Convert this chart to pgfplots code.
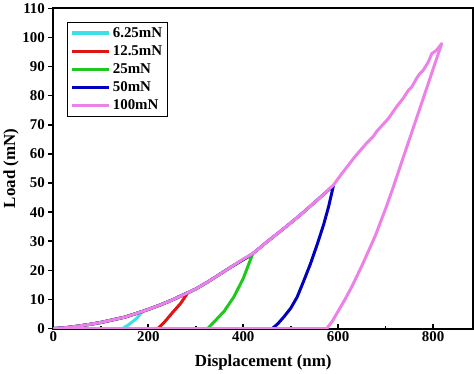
\documentclass[border=0pt]{standalone}
\usepackage{pgfplots}
\pgfplotsset{compat=1.18}
\usepackage{fontspec}
\setmainfont{Liberation Serif}
\definecolor{ccyan}{RGB}{60,225,232}
\definecolor{cred}{RGB}{225,20,20}
\definecolor{cgreen}{RGB}{30,200,30}
\definecolor{cblue}{RGB}{0,0,190}
\definecolor{cpink}{RGB}{236,130,232}
\begin{document}
\begin{tikzpicture}
\begin{axis}[
  scale only axis,
  width=422pt, height=322pt,
  xmin=0, xmax=884, ymin=0, ymax=110,
  xtick={0,200,400,600,800},
  minor xtick={100,300,500,700},
  ytick={0,10,20,30,40,50,60,70,80,90,100,110},
  xtick pos=bottom, ytick pos=left,
  xtick align=inside, ytick align=outside,
  major tick length=5pt, minor tick length=3pt,
  every tick/.style={black, line width=1.6pt},
  axis line style={line width=2pt},
  /pgf/number format/assume math mode=true,
  tick label style={font=\bfseries\fontsize{15}{18}\selectfont},
  label style={font=\bfseries\fontsize{17}{20}\selectfont},
  xlabel={Displacement (nm)},
  ylabel={Load (mN)},
  xlabel style={yshift=-6pt},
  ylabel style={yshift=-3pt},
  legend style={at={(0.033,0.957)}, anchor=north west, draw=black, line width=0.8pt,
    font=\bfseries\fontsize{15}{18}\selectfont, row sep=2.8pt, inner sep=3pt},
  legend cell align=left,
  legend image code/.code={\draw[#1, line width=3.5pt] (0pt,0pt) -- (37pt,0pt);},
  every axis plot/.append style={line width=3pt, line join=round},
  clip mode=individual,
]
\addplot[ccyan] coordinates {(0,0) (25,0.3) (50,0.8) (75,1.4) (100,2.1) (125,3.0) (150,3.9) (175,5.2) (188,5.9) (175,3.4) (160,1.5) (146,0)};
\addlegendentry{6.25mN}
\addplot[cred] coordinates {(0,0) (25,0.3) (50,0.8) (75,1.4) (100,2.1) (125,3.0) (150,3.9) (175,5.2) (200,6.6) (225,8.1) (250,9.8) (283,12.3) (268,8.6) (251,5.5) (235,2.4) (220,0)};
\addlegendentry{12.5mN}
\addplot[cgreen] coordinates {(0,0) (25,0.3) (50,0.8) (75,1.4) (100,2.1) (125,3.0) (150,3.9) (175,5.2) (200,6.6) (225,8.1) (250,9.8) (283,12.3) (300,13.6) (325,16.0) (350,18.6) (375,21.2) (400,23.7) (419,25.3) (400,17.2) (380,10.8) (360,6.0) (340,2.5) (325,0)};
\addlegendentry{25mN}
\addplot[cblue] coordinates {(0,0) (25,0.3) (50,0.8) (75,1.4) (100,2.1) (125,3.0) (150,3.9) (175,5.2) (200,6.6) (225,8.1) (250,9.8) (283,12.3) (300,13.6) (325,16.0) (350,18.6) (375,21.2) (400,23.7) (419,25.6) (450,29.8) (475,33.0) (500,36.3) (525,39.7) (550,43.3) (570,46.2) (590,49.1) (580,42.0) (569.5,35.8) (556,29.0) (541.5,22.2) (527,16.2) (513.5,10.8) (500,7.0) (485.6,4.0) (472,1.5) (461,0)};
\addlegendentry{50mN}
\addplot[cpink] coordinates {(0,0) (25,0.3) (50,0.8) (75,1.4) (100,2.1) (125,3.0) (150,3.9) (175,5.2) (200,6.6) (225,8.1) (250,9.8) (283,12.3) (300,13.6) (325,16.0) (350,18.6) (375,21.2) (400,23.9) (419,25.6) (450,29.8) (475,33.0) (500,36.3) (525,39.7) (550,43.3) (570,46.2) (590,49.3) (608,53.3) (636,59.2) (660,63.7) (674,66.0) (681,67.7) (706,72.2) (723,76.2) (737,79.1) (748,81.9) (755,83.0) (765,85.9) (772,87.6) (779,88.7) (790,91.6) (797,94.4) (807,95.6) (818,97.9) (790,84.3) (762,70.8) (740,60.2) (716,48.6) (702,42.1) (678,31.8) (650,21.6) (630,14.8) (615,10.2) (600,6.0) (588,2.6) (576,0) (0,0)};
\addlegendentry{100mN}
\end{axis}
\end{tikzpicture}
\end{document}
